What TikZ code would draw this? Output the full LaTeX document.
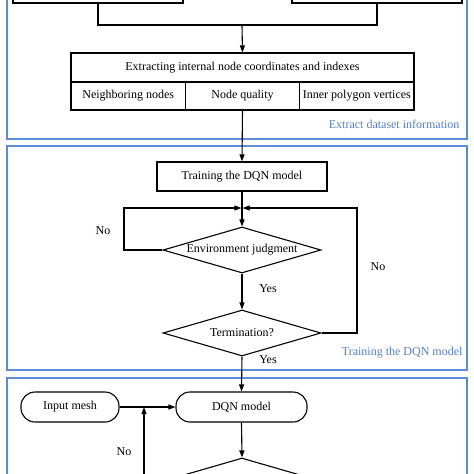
\documentclass[tikz,border=0pt]{standalone}
\usepackage{fontspec}
\setmainfont{Liberation Serif}
\usetikzlibrary{shapes.geometric,arrows.meta}
\definecolor{frameblue}{RGB}{92,140,214}
\definecolor{labelblue}{RGB}{84,128,200}
\begin{document}
\begin{tikzpicture}[x=1pt,y=-1pt,
  font=\fontsize{12}{14}\selectfont,
  box/.style={draw,line width=1.1pt,inner sep=0pt,align=center},
  rbox/.style={box,rounded corners=14pt},
  dec/.style={draw,line width=1.1pt,diamond,aspect=3.4,inner sep=0pt,minimum width=158pt,minimum height=46pt},
  ln/.style={line width=1.1pt},
  arr/.style={ln,-{Triangle[length=7pt,width=5pt]}},
  frame/.style={draw=frameblue,line width=1.2pt},
  blab/.style={text=labelblue,anchor=east}]
\useasboundingbox (0,0) rectangle (474,474);
\clip (0,0) rectangle (474,474);
% frames
\draw[frame] (7,-20) rectangle (467,139);
\draw[frame] (7,146) rectangle (467,370);
\draw[frame] (7,378) rectangle (467,500);
% top boxes (cut off)
\node[box,minimum width=170pt,minimum height=40pt] (topL) at (98,-17) {};
\node[box,minimum width=170pt,minimum height=40pt] (topR) at (377,-17) {};
\coordinate (j1) at (242,25);
\draw[ln] (topL.south) |- (j1) -| (topR.south);
% extract box
\node[box,minimum width=343pt,minimum height=29pt] (ext) at (242.5,67.5) {Extracting internal node coordinates and indexes};
\node[box,minimum width=114.33pt,minimum height=28pt] (c1) at (128.17,96) {Neighboring nodes};
\node[box,minimum width=114.33pt,minimum height=28pt] (c2) at (242.5,96) {Node quality};
\node[box,minimum width=114.33pt,minimum height=28pt] (c3) at (356.83,96) {Inner polygon vertices};
\draw[arr] (j1) -- (ext.north);
\node[blab] (l1) at (463,124) {Extract dataset information};
% training section
\node[box,minimum width=170pt,minimum height=29pt] (train) at (242,176.5) {Training the DQN model};
\draw[arr] (c2.south) -- (train.north);
\coordinate (jn) at (242,208);
\node[dec] (env) at (242,250) {Environment judgment};
\node[dec] (term) at (242,333) {Termination?};
\draw[ln] (train.south) -- (jn);
\draw[arr] (jn) -- (env.north);
\draw[arr] (env.west) -- (124,250) |- ([xshift=-0.6pt]jn);
\draw[arr] (term.east) -- (357,333) |- ([xshift=0.6pt]jn);
\draw[arr] (env.south) -- (term.north);
\node (no1) at (103,231) {No};
\node (no2) at (378,267) {No};
\node (yes1) at (268,289) {Yes};
\node (yes2) at (268,360) {Yes};
\node[blab] (l2) at (466,353) {Training the DQN model};
% bottom section
\node[rbox,minimum width=98pt,minimum height=30pt] (mesh) at (70,407) {Input mesh};
\node[rbox,minimum width=131pt,minimum height=30pt] (dqn) at (241.5,407) {DQN model};
\node[dec] (dec3) at (242,481) {};
\coordinate (jm) at (144,407);
\coordinate (jb) at (144,480);
\draw[arr] (term.south) -- (dqn.north);
\draw[arr] (mesh.east) -- (dqn.west);
\draw[arr] (jb) -- (jm);
\draw[arr] (dqn.south) -- (dec3.north);
\node (no3) at (124,452) {No};
\end{tikzpicture}
\end{document}
